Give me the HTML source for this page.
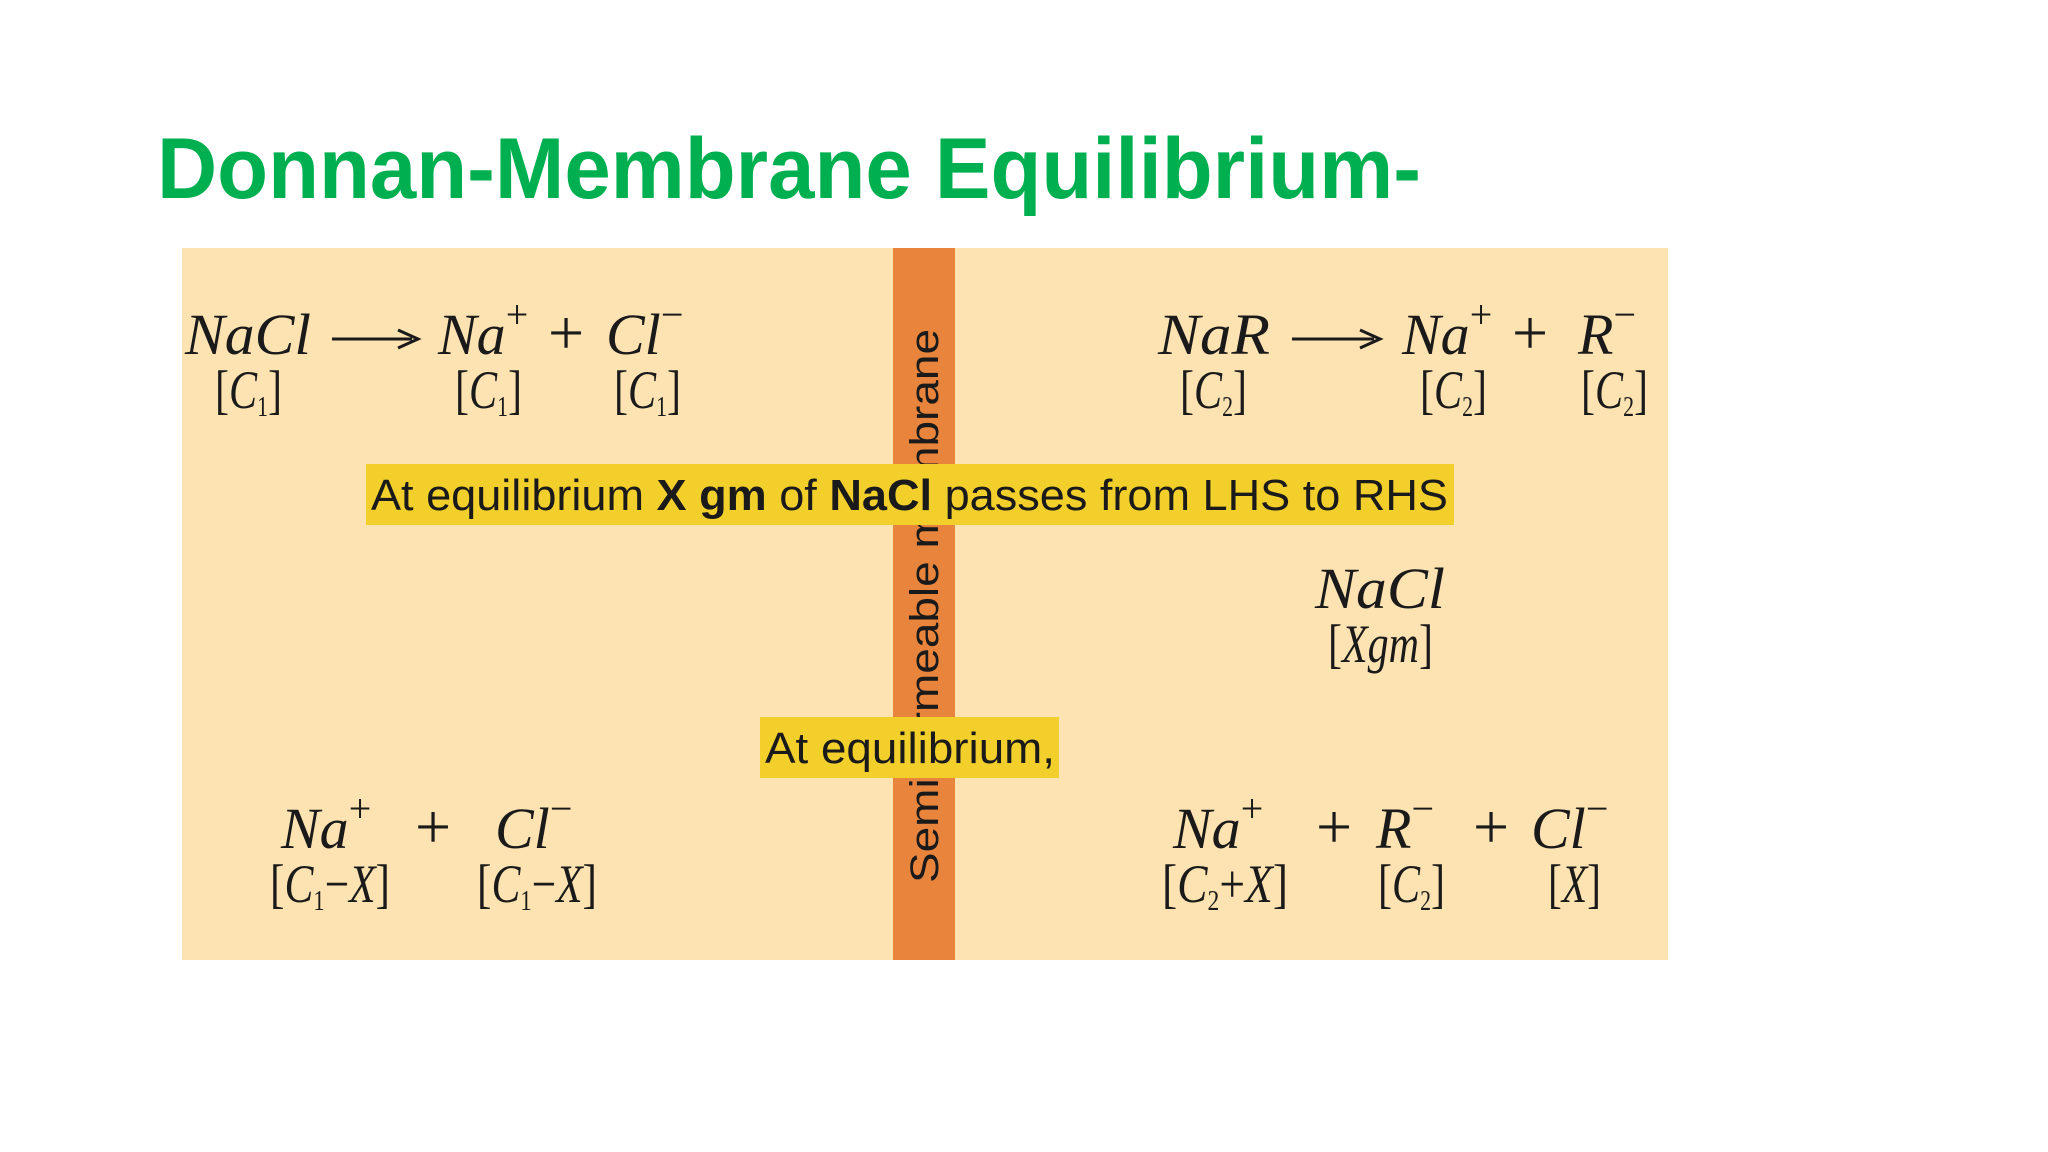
<!DOCTYPE html>
<html><head><meta charset="utf-8"><style>
html,body{margin:0;padding:0;background:#fff;}
svg{display:block}
.m{font-family:"Liberation Serif",serif;font-style:italic;fill:#1a1a1a}
.b{font-family:"Liberation Serif",serif;fill:#1a1a1a}
.s{font-family:"Liberation Sans",sans-serif;fill:#1a1a1a}
</style></head><body>
<svg width="2048" height="1152" viewBox="0 0 2048 1152" xmlns="http://www.w3.org/2000/svg">
<rect width="2048" height="1152" fill="#fff"/>
<text x="157" y="198" font-family="Liberation Sans,sans-serif" font-weight="bold" font-size="86" fill="#00b050" textLength="1264" lengthAdjust="spacingAndGlyphs">Donnan-Membrane Equilibrium-</text>
<rect x="182" y="248" width="1486" height="712" fill="#fde3b2"/>
<rect x="893" y="248" width="62" height="712" fill="#e8843c"/>
<text transform="translate(938,883) rotate(-90)" class="s" font-size="40" fill="#3a2a1a" textLength="554" lengthAdjust="spacingAndGlyphs">Semipermeable membrane</text>

<!-- row 1 left -->
<text x="185" y="354" class="m" font-size="58" textLength="126" lengthAdjust="spacingAndGlyphs">NaCl</text>
<line x1="332" y1="339" x2="412" y2="339" stroke="#1a1a1a" stroke-width="3"/>
<path d="M398,330 L418,339 L398,348" fill="none" stroke="#1a1a1a" stroke-width="3"/>
<text x="438" y="354" class="m" font-size="58">Na<tspan dy="-26" font-size="40" font-style="normal">+</tspan></text>
<text x="548" y="354" class="b" font-size="64">+</text>
<text x="606" y="354" class="m" font-size="58">Cl<tspan dy="-26" font-size="40" font-style="normal">−</tspan></text>
<g class="b" font-size="54">
<text x="215" y="408" textLength="67" lengthAdjust="spacingAndGlyphs">[<tspan font-style="italic">C</tspan><tspan font-size="28" dy="8">1</tspan><tspan dy="-8">]</tspan></text>
<text x="455" y="408" textLength="67" lengthAdjust="spacingAndGlyphs">[<tspan font-style="italic">C</tspan><tspan font-size="28" dy="8">1</tspan><tspan dy="-8">]</tspan></text>
<text x="614" y="408" textLength="67" lengthAdjust="spacingAndGlyphs">[<tspan font-style="italic">C</tspan><tspan font-size="28" dy="8">1</tspan><tspan dy="-8">]</tspan></text>
</g>

<!-- row 1 right -->
<text x="1158" y="354" class="m" font-size="58" textLength="112" lengthAdjust="spacingAndGlyphs">NaR</text>
<line x1="1292" y1="339" x2="1374" y2="339" stroke="#1a1a1a" stroke-width="3"/>
<path d="M1360,330 L1380,339 L1360,348" fill="none" stroke="#1a1a1a" stroke-width="3"/>
<text x="1402" y="354" class="m" font-size="58">Na<tspan dy="-26" font-size="40" font-style="normal">+</tspan></text>
<text x="1512" y="354" class="b" font-size="64">+</text>
<text x="1578" y="354" class="m" font-size="58">R<tspan dy="-26" font-size="40" font-style="normal">−</tspan></text>
<g class="b" font-size="54">
<text x="1180" y="408" textLength="67" lengthAdjust="spacingAndGlyphs">[<tspan font-style="italic">C</tspan><tspan font-size="28" dy="8">2</tspan><tspan dy="-8">]</tspan></text>
<text x="1420" y="408" textLength="67" lengthAdjust="spacingAndGlyphs">[<tspan font-style="italic">C</tspan><tspan font-size="28" dy="8">2</tspan><tspan dy="-8">]</tspan></text>
<text x="1581" y="408" textLength="67" lengthAdjust="spacingAndGlyphs">[<tspan font-style="italic">C</tspan><tspan font-size="28" dy="8">2</tspan><tspan dy="-8">]</tspan></text>
</g>

<!-- band 1 -->
<rect x="366" y="464" width="1088" height="61" fill="#f2cf2a"/>
<text x="371" y="510" class="s" font-size="44" textLength="1077" lengthAdjust="spacingAndGlyphs">At equilibrium <tspan font-weight="bold">X gm</tspan> of <tspan font-weight="bold">NaCl</tspan> passes from LHS to RHS</text>

<!-- NaCl right -->
<text x="1315" y="608" class="m" font-size="58" textLength="130" lengthAdjust="spacingAndGlyphs">NaCl</text>
<text x="1328" y="662" class="b" font-size="54" textLength="105" lengthAdjust="spacingAndGlyphs">[<tspan font-style="italic">Xgm</tspan>]</text>

<!-- band 2 -->
<rect x="760" y="717" width="299" height="61" fill="#f2cf2a"/>
<text x="765" y="763" class="s" font-size="44" textLength="290" lengthAdjust="spacingAndGlyphs">At equilibrium,</text>

<!-- bottom left -->
<text x="281" y="848" class="m" font-size="58">Na<tspan dy="-26" font-size="40" font-style="normal">+</tspan></text>
<text x="415" y="848" class="b" font-size="64">+</text>
<text x="495" y="848" class="m" font-size="58">Cl<tspan dy="-26" font-size="40" font-style="normal">−</tspan></text>
<g class="b" font-size="54">
<text x="270" y="902" textLength="120" lengthAdjust="spacingAndGlyphs">[<tspan font-style="italic">C</tspan><tspan font-size="28" dy="8">1</tspan><tspan dy="-8">−</tspan><tspan font-style="italic">X</tspan>]</text>
<text x="477" y="902" textLength="120" lengthAdjust="spacingAndGlyphs">[<tspan font-style="italic">C</tspan><tspan font-size="28" dy="8">1</tspan><tspan dy="-8">−</tspan><tspan font-style="italic">X</tspan>]</text>
</g>

<!-- bottom right -->
<text x="1173" y="848" class="m" font-size="58">Na<tspan dy="-26" font-size="40" font-style="normal">+</tspan></text>
<text x="1316" y="848" class="b" font-size="64">+</text>
<text x="1376" y="848" class="m" font-size="58">R<tspan dy="-26" font-size="40" font-style="normal">−</tspan></text>
<text x="1473" y="848" class="b" font-size="64">+</text>
<text x="1531" y="848" class="m" font-size="58">Cl<tspan dy="-26" font-size="40" font-style="normal">−</tspan></text>
<g class="b" font-size="54">
<text x="1162" y="902" textLength="126" lengthAdjust="spacingAndGlyphs">[<tspan font-style="italic">C</tspan><tspan font-size="28" dy="8">2</tspan><tspan dy="-8">+</tspan><tspan font-style="italic">X</tspan>]</text>
<text x="1378" y="902" textLength="67" lengthAdjust="spacingAndGlyphs">[<tspan font-style="italic">C</tspan><tspan font-size="28" dy="8">2</tspan><tspan dy="-8">]</tspan></text>
<text x="1548" y="902" textLength="53" lengthAdjust="spacingAndGlyphs">[<tspan font-style="italic">X</tspan>]</text>
</g>
</svg>
</body></html>
